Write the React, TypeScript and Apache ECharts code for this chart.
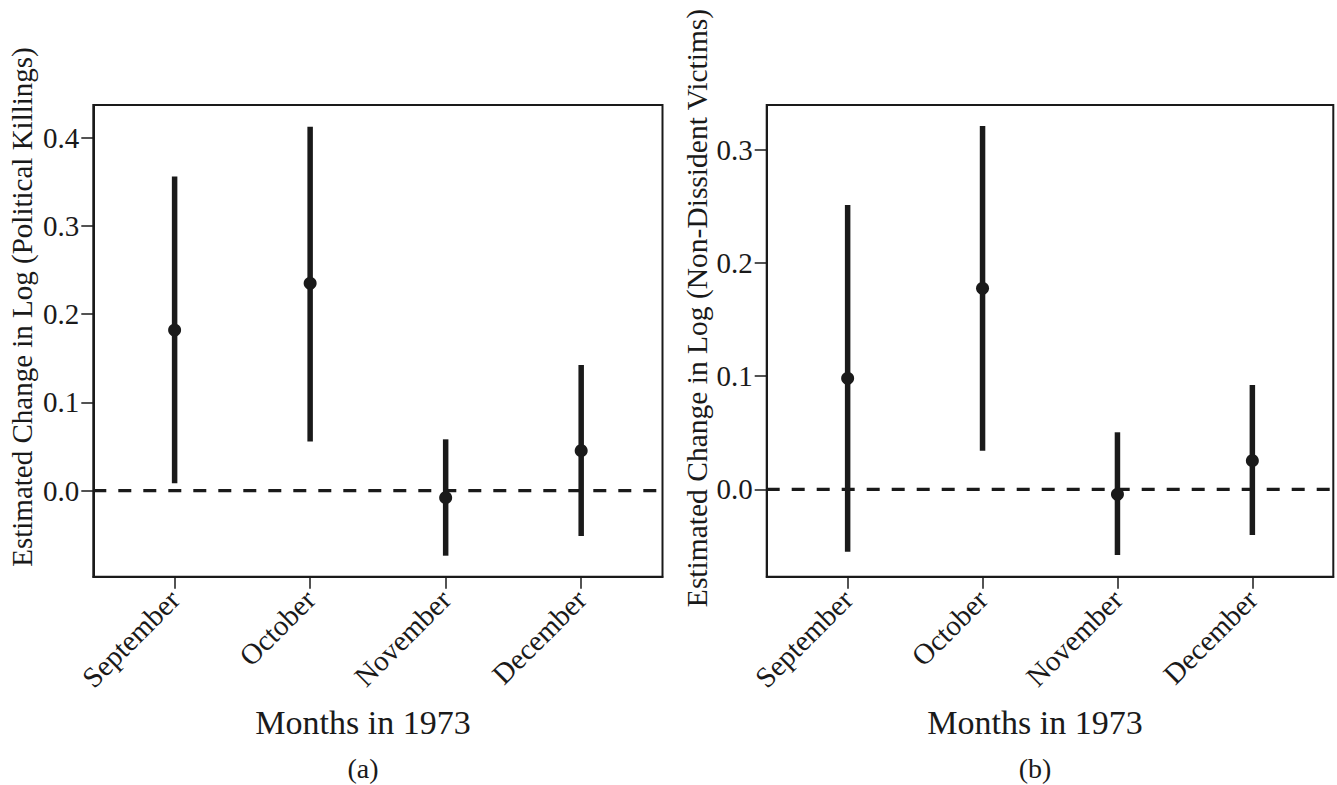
import React, { useEffect, useRef } from "react";
import * as echarts from "echarts";

const months = ["September", "October", "November", "December"];
const monthPos = [1, 2, 3, 4];

// Panel (a): Political killings
const estA = [0.182, 0.235, -0.0079, 0.0453];
const loA = [0.0084, 0.0556, -0.0737, -0.0513];
const hiA = [0.356, 0.4124, 0.0582, 0.1424];
const ticksA = [0, 0.1, 0.2, 0.3, 0.4];

// Panel (b): Non-dissident victims
const estB = [0.0981, 0.1777, -0.0044, 0.0253];
const loB = [-0.0552, 0.0341, -0.0581, -0.0404];
const hiB = [0.2514, 0.3212, 0.0504, 0.0922];
const ticksB = [0, 0.1, 0.2, 0.3];

const FONT = '"Liberation Serif", "DejaVu Serif", serif';
const INK = "#1a1a1a";

export default function App() {
  const ref = useRef<HTMLDivElement>(null);
  useEffect(() => {
    if (!ref.current) return;
    const chart = echarts.init(ref.current, null, { renderer: "svg" });

    const mkX = (gi: number) => ({
      type: "value",
      gridIndex: gi,
      min: 0.4,
      max: 4.6,
      splitLine: { show: false },
      axisLine: { show: true, onZero: false, lineStyle: { color: INK, width: 2 } },
      axisTick: {
        show: true,
        length: 12,
        customValues: monthPos,
        lineStyle: { color: INK, width: 1.5 },
      },
      axisLabel: {
        customValues: monthPos,
        rotate: 45,
        margin: 18,
        fontFamily: FONT,
        fontSize: 29,
        color: INK,
        formatter: (v: number) => months[Math.round(v) - 1] ?? "",
      },
    });

    const mkY = (gi: number, min: number, max: number, ticks: number[]) => ({
      type: "value",
      gridIndex: gi,
      min,
      max,
      splitLine: { show: false },
      axisLine: { show: true, onZero: false, lineStyle: { color: INK, width: 2 } },
      axisTick: {
        show: true,
        length: 12,
        customValues: ticks,
        lineStyle: { color: INK, width: 1.5 },
      },
      axisLabel: {
        customValues: ticks,
        margin: 14,
        fontFamily: FONT,
        fontSize: 29,
        color: INK,
        formatter: (v: number) => v.toFixed(1),
      },
    });

    const errSeries = (gi: number, lo: number[], hi: number[], est: number[]) => [
      {
        type: "custom",
        xAxisIndex: gi,
        yAxisIndex: gi,
        data: monthPos.map((x, i) => [x, lo[i], hi[i]]),
        renderItem: (params: any, api: any) => {
          const p1 = api.coord([api.value(0), api.value(1)]);
          const p2 = api.coord([api.value(0), api.value(2)]);
          return {
            type: "line",
            shape: { x1: p1[0], y1: p1[1], x2: p2[0], y2: p2[1] },
            style: { stroke: INK, lineWidth: 5.5, lineCap: "butt" },
          };
        },
        z: 3,
        silent: true,
      },
      {
        type: "scatter",
        xAxisIndex: gi,
        yAxisIndex: gi,
        data: monthPos.map((x, i) => [x, est[i]]),
        symbol: "circle",
        symbolSize: 13,
        itemStyle: { color: INK, opacity: 1 },
        z: 4,
        silent: true,
      },
      {
        type: "line",
        xAxisIndex: gi,
        yAxisIndex: gi,
        data: [
          [0.4, 0],
          [4.6, 0],
        ],
        symbol: "none",
        lineStyle: { color: INK, width: 3.3, type: [13, 12] },
        z: 2,
        silent: true,
      },
    ];

    const textStyle = (fs: number) => ({
      fontFamily: FONT,
      fontSize: fs,
      fill: INK,
      textAlign: "center",
      textVerticalAlign: "middle",
    });

    chart.setOption({
      animation: false,
      backgroundColor: "#ffffff",
      grid: [
        {
          left: 93.3,
          top: 105,
          width: 569.2,
          height: 471.7,
          show: true,
          borderColor: INK,
          borderWidth: 2,
          backgroundColor: "transparent",
        },
        {
          left: 766.7,
          top: 105,
          width: 566.6,
          height: 471.7,
          show: true,
          borderColor: INK,
          borderWidth: 2,
          backgroundColor: "transparent",
        },
      ],
      xAxis: [mkX(0), mkX(1)],
      yAxis: [mkY(0, -0.0975, 0.4371, ticksA), mkY(1, -0.0773, 0.3398, ticksB)],
      series: [...errSeries(0, loA, hiA, estA), ...errSeries(1, loB, hiB, estB)],
      graphic: [
        {
          type: "text",
          x: 22,
          y: 307,
          rotation: Math.PI / 2,
          style: { text: "Estimated Change in Log (Political Killings)", ...textStyle(29) },
        },
        {
          type: "text",
          x: 697,
          y: 308,
          rotation: Math.PI / 2,
          style: { text: "Estimated Change in Log (Non-Dissident Victims)", ...textStyle(29.5) },
        },
        { type: "text", x: 363, y: 722, style: { text: "Months in 1973", ...textStyle(34) } },
        { type: "text", x: 363, y: 768, style: { text: "(a)", ...textStyle(28) } },
        { type: "text", x: 1035, y: 722, style: { text: "Months in 1973", ...textStyle(34) } },
        { type: "text", x: 1035, y: 768, style: { text: "(b)", ...textStyle(28) } },
      ],
    });

    return () => chart.dispose();
  }, []);

  return (
    <div
      ref={ref}
      style={{ position: "fixed", left: 0, top: 0, width: 1337, height: 785, background: "#fff" }}
    />
  );
}
